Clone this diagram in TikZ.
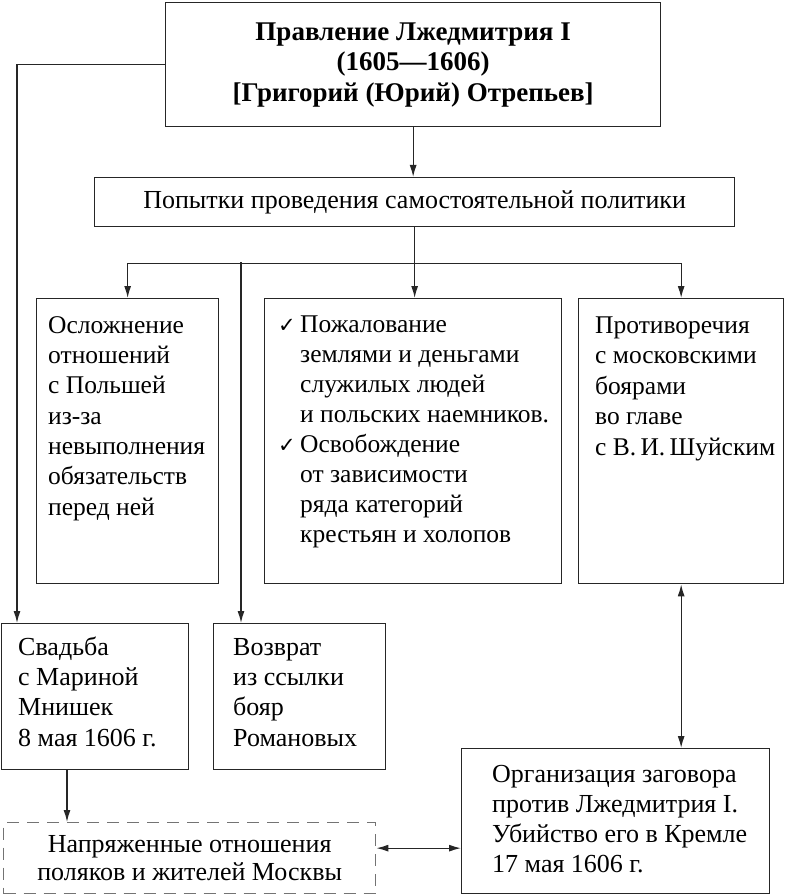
\documentclass[tikz,border=0pt]{standalone}
\usepackage{fontspec}
\setmainfont{Liberation Serif}
\newfontfamily\checkfont{DejaVu Sans}
\usetikzlibrary{arrows.meta,positioning}

\newcommand{\chk}{\makebox[22pt][l]{\checkfont\fontsize{21}{21}\selectfont ✓}}
\newcommand{\ind}{\hspace*{22pt}}

\tikzstyle{block} = [rectangle, draw=black!85, line width=1.3pt, anchor=north west,
    inner sep=0pt, align=center, font=\fontsize{26}{28.5}\selectfont]
\tikzstyle{dashblock} = [block, draw=black!55, dash pattern=on 12pt off 8pt]
\tikzstyle{txt} = [anchor=base west, align=left, inner sep=0pt, font=\fontsize{25.5}{30.3}\selectfont]
\tikzstyle{line} = [draw=black!85, line width=1.3pt, -{Latex[length=12pt,width=7pt]}]
\tikzstyle{both} = [line, {Latex[length=12pt,width=7pt]}-{Latex[length=12pt,width=7pt]}]

\begin{document}
\begin{tikzpicture}[x=1pt, y=-1pt]
    \useasboundingbox (0,0) rectangle (786,896);

    % boxes
    \node[block, minimum width=495pt, minimum height=124pt,
        font=\bfseries\fontsize{27}{30.5}\selectfont] (reign) at (165,2)
        {Правление Лжедмитрия I\\(1605—1606)\\{[}Григорий (Юрий) Отрепьев{]}};
    \node[block, minimum width=640pt, minimum height=49pt] (policy) at (94,177)
        {Попытки проведения самостоятельной политики};
    \node[block, minimum width=182pt, minimum height=285pt] (poland) at (36,298) {};
    \node[block, minimum width=297pt, minimum height=285pt] (grants) at (264,298) {};
    \node[block, minimum width=205pt, minimum height=285pt] (boyars) at (578,298) {};
    \node[block, minimum width=187pt, minimum height=146pt] (wedding) at (1,623) {};
    \node[block, minimum width=172pt, minimum height=146pt] (romanovs) at (213,623) {};
    \node[block, minimum width=308pt, minimum height=145pt] (plot) at (461,748) {};
    \node[dashblock, minimum width=372pt, minimum height=71pt] (tension) at (3,822)
        {Напряженные отношения\\поляков и жителей Москвы};

    % texts, placed by their last line
    \node[txt] (poland-t) at ([shift={(12,217)}]poland.north west)
        {Осложнение\\отношений\\с Польшей\\из-за\\невыполнения\\обязательств\\перед ней};
    \node[txt, font=\fontsize{25.5}{30}\selectfont] (grants-t) at ([shift={(14,244)}]grants.north west)
        {\chk Пожалование\\\ind землями и деньгами\\\ind служилых людей\\\ind и польских наемников.\\
         \chk Освобождение\\\ind от зависимости\\\ind ряда категорий\\\ind крестьян и холопов};
    \node[txt, font=\fontsize{25.5}{30.5}\selectfont] (boyars-t) at ([shift={(17,157)}]boyars.north west)
        {Противоречия\\с московскими\\боярами\\во главе\\с В.\,И.\,Шуйским};
    \node[txt, font=\fontsize{26}{30.3}\selectfont] (wedding-t) at ([shift={(17,123)}]wedding.north west)
        {Свадьба\\с Мариной\\Мнишек\\8 мая 1606 г.};
    \node[txt, font=\fontsize{26}{30.3}\selectfont] (romanovs-t) at ([shift={(20,123)}]romanovs.north west)
        {Возврат\\из ссылки\\бояр\\Романовых};
    \node[txt, font=\fontsize{26}{30}\selectfont] (plot-t) at ([shift={(31,124)}]plot.north west)
        {Организация заговора\\против Лжедмитрия I.\\Убийство его в Кремле\\17 мая 1606 г.};

    \coordinate (fork) at ([yshift=-36pt]policy.south);
    \coordinate (split) at (241,262);

    \path[line] (reign.south) -- (reign.south |- policy.north);
    \path[line, -] (policy.south) -- (fork);
    \path[line] (fork) -| (poland.north);
    \path[line] (fork) -- (fork |- grants.north);
    \path[line] (fork) -| (boyars.north);
    \path[line] (split) -- (split |- romanovs.north);
    \path[line] (reign.west) -| ([xshift=16pt]wedding.north west);
    \path[line] ([xshift=66pt]wedding.south west) -- ([xshift=66pt]wedding.south west |- tension.north);
    \path[both] (boyars.south) -- (boyars.south |- plot.north);
    \path[both] ([yshift=10pt]tension.east) -- ([yshift=10pt]tension.east -| plot.west);
\end{tikzpicture}
\end{document}
